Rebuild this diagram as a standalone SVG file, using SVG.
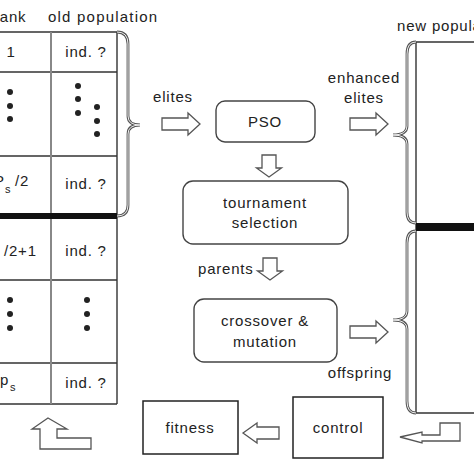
<svg xmlns="http://www.w3.org/2000/svg" xmlns:xlink="http://www.w3.org/1999/xlink" width="474" height="474" viewBox="0 0 474 474">
<style>
.ln{stroke:#333;stroke-width:1.4;fill:none}
.gr{stroke:#888;stroke-width:2;fill:none}
.box{fill:#fff;stroke:#444;stroke-width:1.4}
.sq{fill:#fff;stroke:#222;stroke-width:1.5}
.arr{fill:#fff;stroke:#555;stroke-width:1.3;stroke-linejoin:miter}
.br{stroke:#555;stroke-width:2.8;fill:none}
.bri{stroke:#fff;stroke-width:0.9;fill:none}
.t{font-family:"Liberation Sans",Arial,sans-serif;font-size:15px;fill:#222;letter-spacing:0.8px}
.m{text-anchor:middle}
.sub{font-size:11px}
.dot{fill:#222}
</style>
<defs>
<path id="ar" d="M0,-6 H26 V-11 L38,0 L26,11 V6 H0 Z"/>
<path id="ad" d="M-7,0 V13 H-12.5 L0,22 L12.5,13 H7 V0 Z"/>
<path id="al" d="M0,0 L14,-10 V-6 H36 V6 H14 V10 Z"/>
</defs>
<rect width="474" height="474" fill="#fff"/>

<g id="old-population">
<text class="t" x="-6" y="22">rank</text>
<text class="t" x="48" y="22" textLength="110">old  population</text>
<path class="ln" d="M0,32 H117 M0,72 H117 M0,156 H117 M0,280 H117 M0,363 H117 M0,404 H117 M117,32 V404"/>
<path class="gr" d="M51,32 V404"/>
<rect x="0" y="213" width="117" height="6" fill="#111"/>
<text class="t m" x="11" y="57">1</text>
<text class="t m" x="86" y="57">ind. ?</text>
<circle class="dot" cx="10" cy="92" r="3"/><circle class="dot" cx="10" cy="106" r="3"/><circle class="dot" cx="10" cy="119" r="3"/>
<circle class="dot" cx="78" cy="86" r="3"/><circle class="dot" cx="78" cy="99" r="3"/><circle class="dot" cx="78" cy="113" r="3"/>
<circle class="dot" cx="97" cy="107" r="3"/><circle class="dot" cx="97" cy="121" r="3"/><circle class="dot" cx="97" cy="134" r="3"/>
<text class="t" x="-6" y="186">P</text><text class="t sub" x="5" y="193">s</text><text class="t" x="15" y="186">/2</text>
<text class="t m" x="86" y="189">ind. ?</text>
<text class="t" x="4" y="256">/2+1</text>
<text class="t m" x="86" y="256">ind. ?</text>
<circle class="dot" cx="10" cy="300" r="3"/><circle class="dot" cx="10" cy="314" r="3"/><circle class="dot" cx="10" cy="328" r="3"/>
<circle class="dot" cx="87" cy="300" r="3"/><circle class="dot" cx="87" cy="314" r="3"/><circle class="dot" cx="87" cy="328" r="3"/>
<text class="t" x="0" y="385">p</text><text class="t sub" x="10" y="391">s</text>
<text class="t m" x="86" y="388">ind. ?</text>
</g>

<g id="new-population">
<text class="t" x="397" y="31">new population</text>
<path class="ln" d="M416,42 H474 M416,413 H474 M416,42 V413"/>
<rect x="416" y="223" width="58" height="8" fill="#111"/>
</g>

<g id="pso">
<rect class="box" x="216" y="101" width="99" height="41" rx="9"/>
<text class="t m" x="265" y="127">PSO</text>
</g>
<g id="tournament">
<rect class="box" x="183" y="181" width="165" height="63" rx="10"/>
<text class="t m" x="265" y="208">tournament</text>
<text class="t m" x="265" y="228">selection</text>
</g>
<g id="crossover">
<rect class="box" x="194" y="299" width="143" height="63" rx="10"/>
<text class="t m" x="265" y="326">crossover &amp;</text>
<text class="t m" x="265" y="347">mutation</text>
</g>
<g id="fitness">
<rect class="sq" x="143" y="401" width="95" height="53"/>
<text class="t m" x="190" y="433">fitness</text>
</g>
<g id="control">
<rect class="sq" x="293" y="397" width="90" height="61"/>
<text class="t m" x="338" y="433">control</text>
</g>

<g id="connectors">
<path class="br" d="M117,32 Q128,32 128,44 V116 Q128,125 140,125 Q128,125 128,134 V205 Q128,216 117,216"/>
<path class="bri" d="M117,32 Q128,32 128,44 V116 Q128,125 140,125 Q128,125 128,134 V205 Q128,216 117,216"/>
<path class="br" d="M416,42 Q407,42 407,54 V126 Q407,135 393,135 Q407,135 407,144 V212 Q407,223 416,223"/>
<path class="bri" d="M416,42 Q407,42 407,54 V126 Q407,135 393,135 Q407,135 407,144 V212 Q407,223 416,223"/>
<path class="br" d="M416,231 Q407,231 407,243 V311 Q407,320 393,320 Q407,320 407,329 V401 Q407,413 416,413"/>
<path class="bri" d="M416,231 Q407,231 407,243 V311 Q407,320 393,320 Q407,320 407,329 V401 Q407,413 416,413"/>
<text class="t m" x="173" y="102">elites</text>
<use href="#ar" xlink:href="#ar" class="arr" transform="translate(162,124)"/>
<text class="t m" x="364" y="83">enhanced</text>
<text class="t m" x="364" y="103">elites</text>
<use href="#ar" xlink:href="#ar" class="arr" transform="translate(350,124)"/>
<use href="#ad" xlink:href="#ad" class="arr" transform="translate(269,155)"/>
<text class="t" x="198" y="274">parents</text>
<use href="#ad" xlink:href="#ad" class="arr" transform="translate(270,258)"/>
<use href="#ar" xlink:href="#ar" class="arr" transform="translate(350,332)"/>
<text class="t m" x="360" y="378">offspring</text>
<use href="#al" xlink:href="#al" class="arr" transform="translate(243,433)"/>
<path class="arr" d="M400,437 L422,432 V435 H440 V423 H460 V441 H422 V443 Z"/>
<path class="arr" d="M48,418 L67,429 H57 V438 H91 V449 H40 V429 H32 Z"/>
</g>
</svg>
